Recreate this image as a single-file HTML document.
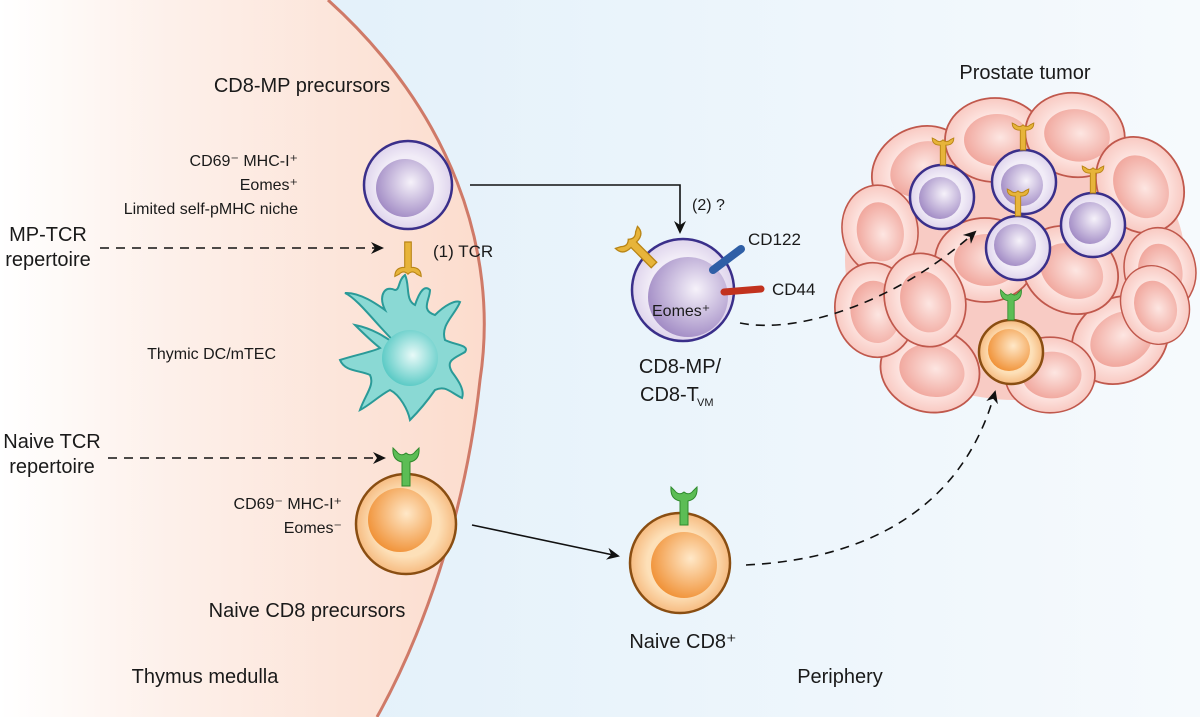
<!DOCTYPE html>
<html><head><meta charset="utf-8"><style>
html,body{margin:0;padding:0;width:1200px;height:717px;overflow:hidden;background:#fff}
text{font-family:"Liberation Sans",sans-serif;fill:#1a1a1a}
</style></head><body>
<svg width="1200" height="717" viewBox="0 0 1200 717" xmlns="http://www.w3.org/2000/svg">
<defs>
<linearGradient id="bg" x1="0" x2="1" y1="0" y2="0"><stop offset="0.3" stop-color="#e4f1fa"/><stop offset="1" stop-color="#f6fafd"/></linearGradient>
<linearGradient id="thy" x1="0" x2="1"><stop offset="0" stop-color="#ffffff"/><stop offset="0.35" stop-color="#fdf0ea"/><stop offset="1" stop-color="#fcdccd"/></linearGradient>
<radialGradient id="pn" cx="0.6" cy="0.4" r="0.7"><stop offset="0" stop-color="#f6f2fa"/><stop offset="1" stop-color="#9a82c0"/></radialGradient>
<radialGradient id="pc" cx="0.5" cy="0.5" r="0.55"><stop offset="0.6" stop-color="#f1ecf7"/><stop offset="1" stop-color="#d9cde9"/></radialGradient>
<radialGradient id="on" cx="0.6" cy="0.4" r="0.7"><stop offset="0" stop-color="#ffe8c8"/><stop offset="1" stop-color="#ef8a2a"/></radialGradient>
<radialGradient id="oc" cx="0.5" cy="0.5" r="0.55"><stop offset="0.6" stop-color="#fde0b8"/><stop offset="1" stop-color="#f4b070"/></radialGradient>
<radialGradient id="tn" cx="0.55" cy="0.45" r="0.6"><stop offset="0" stop-color="#e8faf8"/><stop offset="1" stop-color="#52c7c2"/></radialGradient>
<radialGradient id="tum" cx="0.5" cy="0.5" r="0.6"><stop offset="0.5" stop-color="#fde4e0"/><stop offset="1" stop-color="#f6bcb3"/></radialGradient>
<radialGradient id="tin" cx="0.55" cy="0.45" r="0.6"><stop offset="0" stop-color="#fde6e2"/><stop offset="1" stop-color="#f0a49a"/></radialGradient>
<marker id="ah" markerWidth="14" markerHeight="14" refX="11" refY="7" orient="auto" markerUnits="userSpaceOnUse"><path d="M0,1 L13,7 L0,13 L4,7z" fill="#111"/></marker>
<g id="ytcr"><path d="M-3,0 L-3,-22 Q-12,-22 -12,-30 L-8,-28 Q-4,-24 0,-28 Q4,-24 8,-28 L12,-30 Q12,-22 3,-22 L3,0z" fill="#e7b43a" stroke="#b98516" stroke-width="1"/></g>
<g id="gtcr"><path d="M-4,0 L-4,-24 Q-14,-26 -13,-38 L-9,-34 Q-5,-29 0,-33 Q5,-29 9,-34 L13,-38 Q14,-26 4,-24 L4,0z" fill="#5cbd55" stroke="#2f8a2d" stroke-width="1"/></g>
<g id="blob"><ellipse cx="0" cy="0" rx="50" ry="42" fill="url(#tum)" stroke="#c0584c" stroke-width="1.8"/><ellipse cx="2" cy="0" rx="33" ry="26" fill="url(#tin)"/></g>
</defs>
<rect width="1200" height="717" fill="url(#bg)"/>
<path d="M0,0 L328,0 C450,110 500,250 480,380 C465,520 420,640 377,717 L0,717z" fill="url(#thy)"/>
<path d="M328,0 C450,110 500,250 480,380 C465,520 420,640 377,717" fill="none" stroke="#cf7a68" stroke-width="3"/>

<text x="302" y="92" font-size="20" text-anchor="middle">CD8-MP precursors</text>
<text x="298" y="166" font-size="16" text-anchor="end">CD69⁻ MHC-I⁺</text>
<text x="298" y="190" font-size="16" text-anchor="end">Eomes⁺</text>
<text x="298" y="214" font-size="16" text-anchor="end">Limited self-pMHC niche</text>
<text x="48" y="241" font-size="20" text-anchor="middle">MP-TCR</text>
<text x="48" y="266" font-size="20" text-anchor="middle">repertoire</text>
<text x="433" y="257" font-size="17">(1) TCR</text>
<text x="276" y="359" font-size="16" text-anchor="end">Thymic DC/mTEC</text>
<text x="52" y="448" font-size="20" text-anchor="middle">Naive TCR</text>
<text x="52" y="473" font-size="20" text-anchor="middle">repertoire</text>
<text x="342" y="509" font-size="16" text-anchor="end">CD69⁻ MHC-I⁺</text>
<text x="342" y="533" font-size="16" text-anchor="end">Eomes⁻</text>
<text x="307" y="617" font-size="20" text-anchor="middle">Naive CD8 precursors</text>
<text x="205" y="683" font-size="20" text-anchor="middle">Thymus medulla</text>
<text x="840" y="683" font-size="20" text-anchor="middle">Periphery</text>
<text x="1025" y="79" font-size="20" text-anchor="middle">Prostate tumor</text>

<line x1="100" y1="248" x2="382" y2="248" stroke="#111" stroke-width="1.6" stroke-dasharray="9,7" marker-end="url(#ah)"/>
<line x1="108" y1="458" x2="384" y2="458" stroke="#111" stroke-width="1.6" stroke-dasharray="9,7" marker-end="url(#ah)"/>

<circle cx="408" cy="185" r="44" fill="url(#pc)" stroke="#3a2f8a" stroke-width="2.5"/>
<circle cx="405" cy="188" r="29" fill="url(#pn)"/>

<path d="M405,352 C380,330 360,300 345,293 C360,292 378,305 385,310 C378,295 385,285 395,290 C400,290 398,280 405,275 C410,285 405,300 415,305 C420,290 425,285 430,290 C430,300 420,310 435,315 C445,305 455,300 460,302 C455,315 440,325 445,340 C455,345 470,345 465,352 C455,358 445,360 452,372 C458,380 465,390 462,398 C450,392 445,385 435,390 C428,400 420,410 410,420 C408,410 400,395 390,390 C380,395 370,405 360,410 C365,395 375,385 370,375 C360,370 345,372 340,360 C355,355 372,352 380,348 C370,340 360,330 355,325 C370,328 385,335 405,352z" fill="#8ad9d4" stroke="#2a9a98" stroke-width="2"/>
<circle cx="410" cy="358" r="28" fill="url(#tn)"/>
<use href="#ytcr" transform="translate(408,242) scale(1.1,-1.15)"/>

<circle cx="406" cy="524" r="50" fill="url(#oc)" stroke="#8a4e12" stroke-width="2.5"/>
<circle cx="400" cy="520" r="32" fill="url(#on)"/>
<use href="#gtcr" transform="translate(406,486)"/>

<path d="M470,185 L680,185 L680,232" fill="none" stroke="#111" stroke-width="1.6" marker-end="url(#ah)"/>
<text x="692" y="210" font-size="16">(2) ?</text>
<line x1="472" y1="525" x2="618" y2="556" stroke="#111" stroke-width="1.6" marker-end="url(#ah)"/>

<circle cx="683" cy="290" r="51" fill="url(#pc)" stroke="#3a2f8a" stroke-width="2.5"/>
<circle cx="688" cy="297" r="40" fill="url(#pn)"/>
<g transform="translate(654,265) rotate(-45)"><use href="#ytcr" transform="scale(1.3)"/></g>
<line x1="713" y1="270" x2="741" y2="249" stroke="#2f5fa6" stroke-width="8" stroke-linecap="round"/>
<line x1="724" y1="292" x2="761" y2="289" stroke="#c2321e" stroke-width="7" stroke-linecap="round"/>
<text x="652" y="316" font-size="16">Eomes⁺</text>
<text x="748" y="245" font-size="17">CD122</text>
<text x="772" y="295" font-size="17">CD44</text>
<text x="680" y="373" font-size="20" text-anchor="middle">CD8-MP/</text>
<text x="640" y="401" font-size="20">CD8-T</text>
<text x="697" y="406" font-size="11">VM</text>

<circle cx="680" cy="563" r="50" fill="url(#oc)" stroke="#8a4e12" stroke-width="2.5"/>
<circle cx="684" cy="565" r="33" fill="url(#on)"/>
<use href="#gtcr" transform="translate(684,525)"/>
<text x="683" y="648" font-size="20" text-anchor="middle">Naive CD8⁺</text>

<!-- tumor -->
<ellipse cx="1015" cy="260" rx="170" ry="140" fill="#f8cbc4"/>
<use href="#blob" transform="translate(920,170) rotate(-30)"/>
<use href="#blob" transform="translate(995,140)"/>
<use href="#blob" transform="translate(1075,135) rotate(10)"/>
<use href="#blob" transform="translate(1140,185) rotate(60)"/>
<use href="#blob" transform="translate(880,230) rotate(80) scale(0.9)"/>
<use href="#blob" transform="translate(1160,270) rotate(80) scale(0.85)"/>
<use href="#blob" transform="translate(1120,340) rotate(-30)"/>
<use href="#blob" transform="translate(1050,375) scale(0.9)"/>
<use href="#blob" transform="translate(930,370) rotate(15)"/>
<use href="#blob" transform="translate(985,260)"/>
<use href="#blob" transform="translate(1070,270) rotate(30)"/>
<use href="#blob" transform="translate(875,310) rotate(80) scale(0.95)"/>
<use href="#blob" transform="translate(925,300) rotate(70) scale(0.95)"/>
<use href="#blob" transform="translate(1155,305) rotate(70) scale(0.8)"/>
<g stroke="#3a2f8a" stroke-width="2.5">
<circle cx="942" cy="197" r="32" fill="url(#pc)"/><circle cx="940" cy="198" r="21" fill="url(#pn)" stroke="none"/>
<circle cx="1024" cy="182" r="32" fill="url(#pc)"/><circle cx="1022" cy="185" r="21" fill="url(#pn)" stroke="none"/>
<circle cx="1018" cy="248" r="32" fill="url(#pc)"/><circle cx="1015" cy="245" r="21" fill="url(#pn)" stroke="none"/>
<circle cx="1093" cy="225" r="32" fill="url(#pc)"/><circle cx="1090" cy="223" r="21" fill="url(#pn)" stroke="none"/>
</g>
<use href="#ytcr" transform="translate(943,165) scale(0.9)"/>
<use href="#ytcr" transform="translate(1023,150) scale(0.9)"/>
<use href="#ytcr" transform="translate(1018,216) scale(0.9)"/>
<use href="#ytcr" transform="translate(1093,193) scale(0.9)"/>
<circle cx="1011" cy="352" r="32" fill="url(#oc)" stroke="#8a4e12" stroke-width="2.5"/>
<circle cx="1009" cy="350" r="21" fill="url(#on)"/>
<use href="#gtcr" transform="translate(1011,320) scale(0.8)"/>

<path d="M740,323 C800,335 900,300 975,232" fill="none" stroke="#111" stroke-width="1.6" stroke-dasharray="9,7" marker-end="url(#ah)"/>
<path d="M746,565 C850,560 960,520 995,392" fill="none" stroke="#111" stroke-width="1.6" stroke-dasharray="9,7" marker-end="url(#ah)"/>
</svg>
</body></html>
